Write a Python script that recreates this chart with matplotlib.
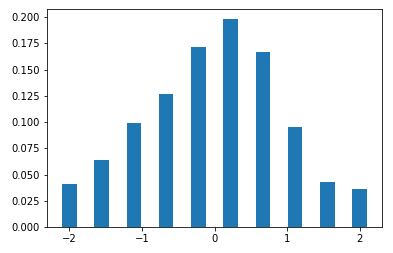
import numpy as np
import matplotlib
matplotlib.use("Agg")
import matplotlib.pyplot as plt

centers = np.linspace(-2, 2, 10)
heights = [0.041, 0.064, 0.099, 0.127, 0.172, 0.198, 0.167, 0.0955, 0.043, 0.036]

fig = plt.figure(figsize=(393/72, 253/72), dpi=72)
ax = fig.add_axes([47/393, 1-227/253, (382-47)/393, (227-9)/253])
ax.bar(centers, heights, width=0.2, color='#1f77b4')
ax.set_xticks([-2, -1, 0, 1, 2])
fig.savefig("out.png", dpi=72)
